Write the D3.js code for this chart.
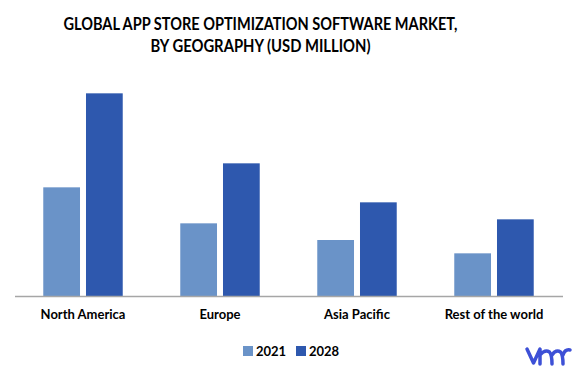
<!DOCTYPE html>
<html lang="en">
<head>
  <meta charset="UTF-8">
  <title>App Store Optimization Software Market</title>
  <style>
    body { margin: 0; background: #fff; }
    svg { display: block; font-family: Lato, "Open Sans", sans-serif; }
  </style>
</head>
<body>
  <svg width="578" height="372"></svg>

  <script src="https://cdn.jsdelivr.net/npm/d3@7"></script>
  <script>
    // データ
    const regions = ["North America", "Europe", "Asia Pacific", "Rest of the world"];
    const years = ["2021", "2028"];
    const values2021 = [326, 218, 168, 128];
    const values2028 = [608, 398, 281, 230];
    const titleLines = ["GLOBAL APP STORE OPTIMIZATION SOFTWARE MARKET,", "BY GEOGRAPHY (USD MILLION)"];
    const titleWidths = [394, 220];

    const colors = { "2021": "#6a93c8", "2028": "#2e58ae" };

    const svg = d3.select("svg");
    const baseY = 296;

    const x0 = d3.scaleBand()
      .domain(regions)
      .range([14.5, 562.5]);

    const x1 = d3.scaleBand()
      .domain(years)
      .range([x0.bandwidth() * 0.21, x0.bandwidth() * 0.79])
      .paddingInner(0.14);

    const y = d3.scaleLinear()
      .domain([0, 750])
      .range([baseY, 46]);

    const rows = regions.map((r, i) => ({
      region: r,
      vals: [
        { year: "2021", value: values2021[i] },
        { year: "2028", value: values2028[i] }
      ]
    }));

    // タイトル（幅を元画像に合わせる）
    svg.append("g")
      .selectAll("text")
      .data(titleLines)
      .enter().append("text")
        .attr("x", 260.5)
        .attr("y", (d, i) => 29.5 + i * 22.5)
        .attr("text-anchor", "middle")
        .attr("font-weight", "bold")
        .attr("font-size", 16.5)
        .attr("fill", "#000")
        .attr("textLength", (d, i) => titleWidths[i])
        .attr("lengthAdjust", "spacingAndGlyphs")
        .text(d => d);

    // 棒
    svg.append("g")
      .selectAll("g")
      .data(rows)
      .enter().append("g")
        .attr("transform", d => `translate(${x0(d.region)},0)`)
      .selectAll("rect")
      .data(d => d.vals)
      .enter().append("rect")
        .attr("x", d => x1(d.year))
        .attr("y", d => y(d.value))
        .attr("width", x1.bandwidth())
        .attr("height", d => baseY - y(d.value))
        .attr("fill", d => colors[d.year]);

    // x軸
    const axis = svg.append("g")
      .attr("transform", `translate(0,${baseY})`)
      .call(d3.axisBottom(x0).tickSize(0).tickPadding(14));

    axis.select(".domain")
      .attr("stroke", "#a6a6a6")
      .attr("stroke-width", 1.3);

    axis.selectAll("text")
      .attr("font-family", "Lato, 'Open Sans', sans-serif")
      .attr("font-size", 13)
      .attr("font-weight", "bold")
      .attr("fill", "#000");

    // 凡例
    const legend = svg.append("g")
      .selectAll("g")
      .data(years)
      .enter().append("g")
        .attr("transform", (d, i) => `translate(${243 + i * 53},346)`);

    legend.append("rect")
      .attr("width", 10)
      .attr("height", 10)
      .attr("fill", d => colors[d]);

    legend.append("text")
      .attr("x", 13)
      .attr("y", 10)
      .attr("font-size", 13)
      .attr("font-weight", "bold")
      .attr("fill", "#000")
      .text(d => d);

    // ロゴ
    svg.append("path")
      .attr("d", "M527,349 L533.5,363 L540,349 L540,364 M540,355 Q545,349 549.5,352 Q552,355 552,364 M552,355 Q556,349 560.5,352 Q563,355 563,364 M563,355 Q565,349 570,350")
      .attr("fill", "none")
      .attr("stroke", "#3d50d6")
      .attr("stroke-width", 3.5)
      .attr("stroke-linecap", "round")
      .attr("stroke-linejoin", "round");
  </script>
</body>
</html>
